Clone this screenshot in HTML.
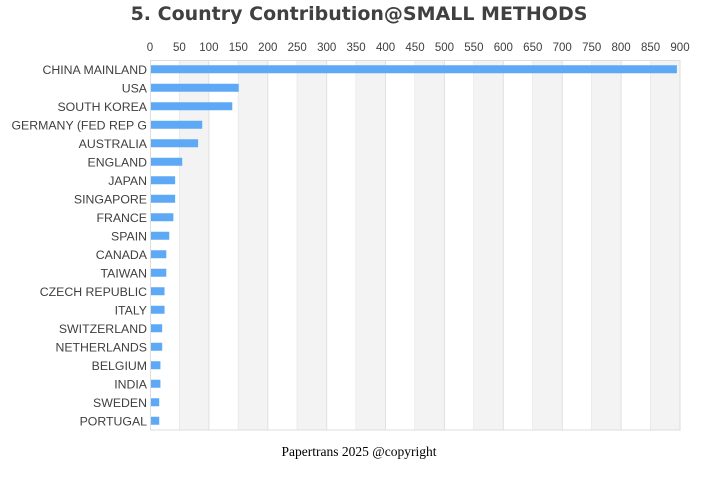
<!DOCTYPE html>
<html><head><meta charset="utf-8"><style>body{margin:0;background:#fff}</style></head><body>
<svg width="720" height="480" xmlns="http://www.w3.org/2000/svg" font-family="Liberation Sans, DejaVu Sans, sans-serif">
<text x="359" y="20" text-anchor="middle" font-size="19" font-weight="bold" font-family="DejaVu Sans, sans-serif" fill="#404040">5. Country Contribution@SMALL METHODS</text>
<g id="bands"></g>
<text x="359" y="456" text-anchor="middle" font-size="13.5" font-family="Liberation Serif, serif" fill="#000">Papertrans 2025 @copyright</text>
</svg>
<script>
(function(){
var sc=530/900,x0=150,t0=60,rh=18.5;
var names=["CHINA MAINLAND","USA","SOUTH KOREA","GERMANY (FED REP G","AUSTRALIA","ENGLAND","JAPAN","SINGAPORE","FRANCE","SPAIN","CANADA","TAIWAN","CZECH REPUBLIC","ITALY","SWITZERLAND","NETHERLANDS","BELGIUM","INDIA","SWEDEN","PORTUGAL"];
var vals=[893,149,138,87,80,53,41,41,38,31,26,26,23,23,19,19,16,16,14,14];
var h='';
for(var i=0;i<18;i++){var a=x0+i*50*sc;if(i%2==1)h+='<rect x="'+a+'" y="'+t0+'" width="'+(50*sc)+'" height="370" fill="#f3f3f3"/>';h+='<line x1="'+(a+50*sc)+'" y1="'+t0+'" x2="'+(a+50*sc)+'" y2="430" stroke="#e0e0e0"/>';}
for(var i=0;i<=18;i++){h+='<text x="'+(x0+i*50*sc)+'" y="51" text-anchor="middle" font-size="11.5" fill="#404040">'+(i*50)+'</text>';}
h+='<rect x="150.5" y="60.5" width="529.5" height="369.5" fill="none" stroke="#ddd"/>';
for(var j=0;j<names.length;j++){var c=t0+rh*j+9.25;h+='<rect x="151" y="'+(c-4)+'" width="'+(vals[j]*sc)+'" height="8" fill="#5ea9f5"/>';h+='<text x="147" y="'+(c+4.5)+'" text-anchor="end" font-size="12.3" fill="#404040">'+names[j]+'</text>';}
document.getElementById('bands').innerHTML=h;
})();
</script>
</body></html>
